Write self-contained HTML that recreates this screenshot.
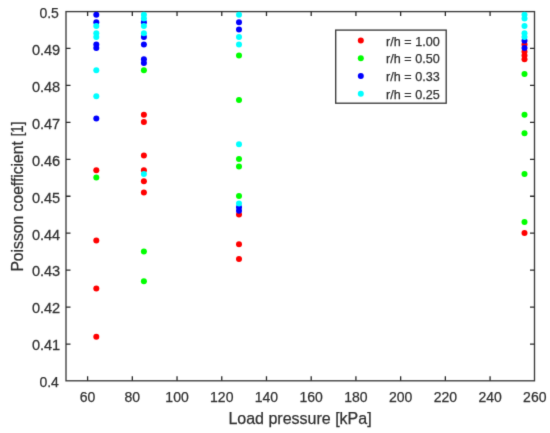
<!DOCTYPE html><html><head><meta charset="utf-8"><style>html,body{margin:0;padding:0;background:#fff;}svg{display:block;}text{font-family:"Liberation Sans",Arial,sans-serif;}</style></head><body>
<svg width="550" height="433" viewBox="0 0 550 433">
<defs><filter id="bl" x="0" y="0" width="550" height="433" filterUnits="userSpaceOnUse" color-interpolation-filters="sRGB"><feConvolveMatrix order="3" kernelMatrix="0.0183 0.1353 0.0183 0.1353 1.0000 0.1353 0.0183 0.1353 0.0183" divisor="1.6146" edgeMode="duplicate"/></filter></defs>
<rect width="550" height="433" fill="#fff"/>
<g filter="url(#bl)">
<rect x="66.0" y="11.6" width="468.5" height="369.2" fill="none" stroke="#3c3c3c" stroke-width="1.35"/>
<path d="M87.60 380.8V376.3M87.60 11.6V16.1M132.32 380.8V376.3M132.32 11.6V16.1M177.04 380.8V376.3M177.04 11.6V16.1M221.76 380.8V376.3M221.76 11.6V16.1M266.48 380.8V376.3M266.48 11.6V16.1M311.20 380.8V376.3M311.20 11.6V16.1M355.92 380.8V376.3M355.92 11.6V16.1M400.64 380.8V376.3M400.64 11.6V16.1M445.36 380.8V376.3M445.36 11.6V16.1M490.08 380.8V376.3M490.08 11.6V16.1M66.0 344.08H70.5M534.5 344.08H530.0M66.0 307.12H70.5M534.5 307.12H530.0M66.0 270.16H70.5M534.5 270.16H530.0M66.0 233.20H70.5M534.5 233.20H530.0M66.0 196.24H70.5M534.5 196.24H530.0M66.0 159.28H70.5M534.5 159.28H530.0M66.0 122.32H70.5M534.5 122.32H530.0M66.0 85.36H70.5M534.5 85.36H530.0M66.0 48.40H70.5M534.5 48.40H530.0" stroke="#2a2a2a" stroke-width="1.3" fill="none"/>
<g fill="#303030" stroke="#303030" stroke-width="0.25" font-size="14">
<text x="87.60" y="401.8" text-anchor="middle">60</text>
<text x="132.32" y="401.8" text-anchor="middle">80</text>
<text x="177.04" y="401.8" text-anchor="middle">100</text>
<text x="221.76" y="401.8" text-anchor="middle">120</text>
<text x="266.48" y="401.8" text-anchor="middle">140</text>
<text x="311.20" y="401.8" text-anchor="middle">160</text>
<text x="355.92" y="401.8" text-anchor="middle">180</text>
<text x="400.64" y="401.8" text-anchor="middle">200</text>
<text x="445.36" y="401.8" text-anchor="middle">220</text>
<text x="490.08" y="401.8" text-anchor="middle">240</text>
<text x="534.80" y="401.8" text-anchor="middle">260</text>
<text x="58.9" y="387.44" text-anchor="end">0.4</text>
<text transform="translate(60.2 350.38) scale(1.04 1)" text-anchor="end">0.41</text>
<text transform="translate(60.2 313.42) scale(1.04 1)" text-anchor="end">0.42</text>
<text transform="translate(60.2 276.46) scale(1.04 1)" text-anchor="end">0.43</text>
<text transform="translate(60.2 239.50) scale(1.04 1)" text-anchor="end">0.44</text>
<text transform="translate(60.2 202.54) scale(1.04 1)" text-anchor="end">0.45</text>
<text transform="translate(60.2 165.58) scale(1.04 1)" text-anchor="end">0.46</text>
<text transform="translate(60.2 128.62) scale(1.04 1)" text-anchor="end">0.47</text>
<text transform="translate(60.2 91.66) scale(1.04 1)" text-anchor="end">0.48</text>
<text transform="translate(60.2 54.70) scale(1.04 1)" text-anchor="end">0.49</text>
<text x="58.9" y="17.84" text-anchor="end">0.5</text>
</g>
<text x="300.0" y="423.8" font-size="16" fill="#303030" stroke="#303030" stroke-width="0.25" text-anchor="middle">Load pressure [kPa]</text>
<text transform="translate(22.6 271.6) rotate(-90)" font-size="15.7" fill="#303030" stroke="#303030" stroke-width="0.25">Poisson coefficient</text>
<text transform="translate(22.6 121.7) rotate(-90) scale(0.82 1)" font-size="16" fill="#303030" stroke="#303030" stroke-width="0.25" text-anchor="end">[1]</text>
<circle cx="96.3" cy="170.18" r="3.0" fill="#ff0000"/>
<circle cx="96.3" cy="240.47" r="3.0" fill="#ff0000"/>
<circle cx="96.3" cy="288.57" r="3.0" fill="#ff0000"/>
<circle cx="96.3" cy="336.66" r="3.0" fill="#ff0000"/>
<circle cx="143.9" cy="114.68" r="3.0" fill="#ff0000"/>
<circle cx="143.9" cy="122.08" r="3.0" fill="#ff0000"/>
<circle cx="143.9" cy="155.38" r="3.0" fill="#ff0000"/>
<circle cx="143.9" cy="170.18" r="3.0" fill="#ff0000"/>
<circle cx="143.9" cy="181.28" r="3.0" fill="#ff0000"/>
<circle cx="143.9" cy="192.38" r="3.0" fill="#ff0000"/>
<circle cx="239.0" cy="214.57" r="3.0" fill="#ff0000"/>
<circle cx="239.0" cy="244.17" r="3.0" fill="#ff0000"/>
<circle cx="239.0" cy="258.97" r="3.0" fill="#ff0000"/>
<circle cx="524.5" cy="44.39" r="3.0" fill="#ff0000"/>
<circle cx="524.5" cy="51.79" r="3.0" fill="#ff0000"/>
<circle cx="524.5" cy="55.49" r="3.0" fill="#ff0000"/>
<circle cx="524.5" cy="59.19" r="3.0" fill="#ff0000"/>
<circle cx="524.5" cy="233.07" r="3.0" fill="#ff0000"/>
<circle cx="96.3" cy="177.58" r="3.0" fill="#00ff00"/>
<circle cx="143.9" cy="70.29" r="3.0" fill="#00ff00"/>
<circle cx="143.9" cy="251.57" r="3.0" fill="#00ff00"/>
<circle cx="143.9" cy="281.17" r="3.0" fill="#00ff00"/>
<circle cx="239.0" cy="55.49" r="3.0" fill="#00ff00"/>
<circle cx="239.0" cy="99.88" r="3.0" fill="#00ff00"/>
<circle cx="239.0" cy="159.08" r="3.0" fill="#00ff00"/>
<circle cx="239.0" cy="166.48" r="3.0" fill="#00ff00"/>
<circle cx="239.0" cy="196.07" r="3.0" fill="#00ff00"/>
<circle cx="524.5" cy="73.98" r="3.0" fill="#00ff00"/>
<circle cx="524.5" cy="114.68" r="3.0" fill="#00ff00"/>
<circle cx="524.5" cy="133.18" r="3.0" fill="#00ff00"/>
<circle cx="524.5" cy="173.88" r="3.0" fill="#00ff00"/>
<circle cx="524.5" cy="221.97" r="3.0" fill="#00ff00"/>
<circle cx="96.3" cy="14.79" r="3.0" fill="#0000ff"/>
<circle cx="96.3" cy="22.19" r="3.0" fill="#0000ff"/>
<circle cx="96.3" cy="44.39" r="3.0" fill="#0000ff"/>
<circle cx="96.3" cy="48.09" r="3.0" fill="#0000ff"/>
<circle cx="96.3" cy="118.38" r="3.0" fill="#0000ff"/>
<circle cx="143.9" cy="22.19" r="3.0" fill="#0000ff"/>
<circle cx="143.9" cy="36.99" r="3.0" fill="#0000ff"/>
<circle cx="143.9" cy="44.39" r="3.0" fill="#0000ff"/>
<circle cx="143.9" cy="59.19" r="3.0" fill="#0000ff"/>
<circle cx="143.9" cy="62.89" r="3.0" fill="#0000ff"/>
<circle cx="239.0" cy="22.19" r="3.0" fill="#0000ff"/>
<circle cx="239.0" cy="29.59" r="3.0" fill="#0000ff"/>
<circle cx="239.0" cy="207.17" r="3.0" fill="#0000ff"/>
<circle cx="239.0" cy="210.87" r="3.0" fill="#0000ff"/>
<circle cx="524.5" cy="40.69" r="3.0" fill="#0000ff"/>
<circle cx="524.5" cy="48.09" r="3.0" fill="#0000ff"/>
<circle cx="96.3" cy="25.89" r="3.0" fill="#00ffff"/>
<circle cx="96.3" cy="33.29" r="3.0" fill="#00ffff"/>
<circle cx="96.3" cy="36.99" r="3.0" fill="#00ffff"/>
<circle cx="96.3" cy="70.29" r="3.0" fill="#00ffff"/>
<circle cx="96.3" cy="96.18" r="3.0" fill="#00ffff"/>
<circle cx="143.9" cy="14.79" r="3.0" fill="#00ffff"/>
<circle cx="143.9" cy="18.49" r="3.0" fill="#00ffff"/>
<circle cx="143.9" cy="25.89" r="3.0" fill="#00ffff"/>
<circle cx="143.9" cy="33.29" r="3.0" fill="#00ffff"/>
<circle cx="143.9" cy="173.88" r="3.0" fill="#00ffff"/>
<circle cx="239.0" cy="14.79" r="3.0" fill="#00ffff"/>
<circle cx="239.0" cy="36.99" r="3.0" fill="#00ffff"/>
<circle cx="239.0" cy="44.39" r="3.0" fill="#00ffff"/>
<circle cx="239.0" cy="144.28" r="3.0" fill="#00ffff"/>
<circle cx="239.0" cy="203.47" r="3.0" fill="#00ffff"/>
<circle cx="524.5" cy="14.79" r="3.0" fill="#00ffff"/>
<circle cx="524.5" cy="18.49" r="3.0" fill="#00ffff"/>
<circle cx="524.5" cy="25.89" r="3.0" fill="#00ffff"/>
<circle cx="524.5" cy="33.29" r="3.0" fill="#00ffff"/>
<circle cx="524.5" cy="36.99" r="3.0" fill="#00ffff"/>
<rect x="335.7" y="30.1" width="110.5" height="73.1" fill="#fff" stroke="#3c3c3c" stroke-width="1.35"/>
<circle cx="360.8" cy="40.40" r="3.0" fill="#ff0000"/>
<text x="386.1" y="45.60" font-size="12.6" fill="#303030" stroke="#303030" stroke-width="0.25">r/h = 1.00</text>
<circle cx="360.8" cy="58.20" r="3.0" fill="#00ff00"/>
<text x="386.1" y="63.40" font-size="12.6" fill="#303030" stroke="#303030" stroke-width="0.25">r/h = 0.50</text>
<circle cx="360.8" cy="76.00" r="3.0" fill="#0000ff"/>
<text x="386.1" y="81.20" font-size="12.6" fill="#303030" stroke="#303030" stroke-width="0.25">r/h = 0.33</text>
<circle cx="360.8" cy="93.80" r="3.0" fill="#00ffff"/>
<text x="386.1" y="99.00" font-size="12.6" fill="#303030" stroke="#303030" stroke-width="0.25">r/h = 0.25</text>
</g>
</svg></body></html>
